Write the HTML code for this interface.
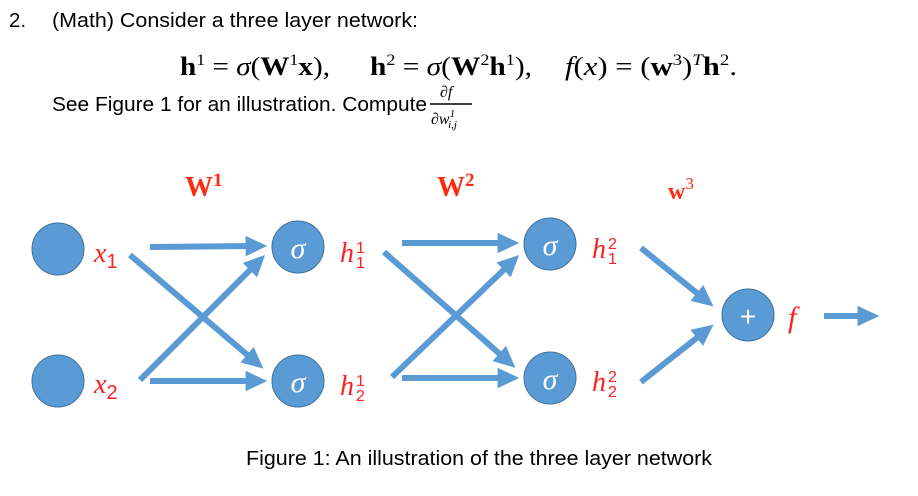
<!DOCTYPE html>
<html><head><style>
body{margin:0;background:#fff;width:918px;height:496px;overflow:hidden}
svg{display:block}
.t{font-family:"Liberation Sans",sans-serif;font-size:20.5px;fill:#000}
.m{font-family:"Liberation Serif",serif;fill:#000}
.r{font-family:"Liberation Serif",serif;fill:#ff2020;font-style:italic}
.W{font-family:"Liberation Serif",serif;fill:#ff2a10;font-weight:bold}
</style></head><body>
<svg width="918" height="496" viewBox="0 0 918 496">
<defs><marker id="a" markerWidth="3.6" markerHeight="3.4" refX="2.4" refY="1.7" orient="auto" markerUnits="strokeWidth"><path d="M0,0 L3.6,1.7 L0,3.4z" fill="#5b9bd5"/></marker></defs>
<text class="t" x="9" y="27">2.</text>
<text class="t" x="52" y="27" textLength="366" lengthAdjust="spacingAndGlyphs">(Math) Consider a three layer network:</text>
<text class="m" x="180" y="75" font-size="26" textLength="150" lengthAdjust="spacingAndGlyphs"><tspan font-weight="bold">h</tspan><tspan font-size="16" dy="-10">1</tspan><tspan dy="10"> = </tspan><tspan font-style="italic">σ</tspan>(<tspan font-weight="bold">W</tspan><tspan font-size="16" dy="-10">1</tspan><tspan dy="10" font-weight="bold">x</tspan>),</text>
<text class="m" x="370" y="75" font-size="26" textLength="162" lengthAdjust="spacingAndGlyphs"><tspan font-weight="bold">h</tspan><tspan font-size="16" dy="-10">2</tspan><tspan dy="10"> = </tspan><tspan font-style="italic">σ</tspan>(<tspan font-weight="bold">W</tspan><tspan font-size="16" dy="-10">2</tspan><tspan dy="10" font-weight="bold">h</tspan><tspan font-size="16" dy="-10">1</tspan><tspan dy="10">),</tspan></text>
<text class="m" x="565" y="75" font-size="26" textLength="172" lengthAdjust="spacingAndGlyphs"><tspan font-style="italic">f</tspan>(<tspan font-style="italic">x</tspan>) = (<tspan font-weight="bold">w</tspan><tspan font-size="16" dy="-10">3</tspan><tspan dy="10">)</tspan><tspan font-size="16" dy="-10" font-style="italic">T</tspan><tspan dy="10" font-weight="bold">h</tspan><tspan font-size="16" dy="-10">2</tspan><tspan dy="10">.</tspan></text>
<text class="t" x="52" y="111" textLength="375" lengthAdjust="spacingAndGlyphs">See Figure 1 for an illustration. Compute</text>
<text class="m" x="440" y="97" font-size="16" font-style="italic">∂f</text>
<line x1="430" y1="104" x2="472" y2="104" stroke="#000" stroke-width="1.5"/>
<text class="m" x="431" y="124" font-size="16" font-style="italic">∂w<tspan font-size="11" dy="-7">1</tspan><tspan font-size="11" dx="-7" dy="11">i,j</tspan></text>
<text class="W" x="185" y="196" font-size="28">W<tspan font-size="19" dy="-10">1</tspan></text>
<text class="W" x="437" y="196" font-size="28">W<tspan font-size="19" dy="-10">2</tspan></text>
<text class="W" x="668" y="199" font-size="24" fill="#e8204a">w<tspan font-size="17" dy="-10" font-weight="normal">3</tspan></text>
<g stroke="#5b9bd5" stroke-width="6" fill="none" marker-end="url(#a)">
<line x1="150" y1="247" x2="260" y2="246"/>
<line x1="150" y1="381" x2="260" y2="381"/>
<line x1="130" y1="255" x2="258" y2="364"/>
<line x1="140" y1="380" x2="260" y2="260"/>
<line x1="402" y1="243" x2="512" y2="243"/>
<line x1="402" y1="378" x2="512" y2="378"/>
<line x1="384" y1="252" x2="510" y2="363"/>
<line x1="392" y1="377" x2="514" y2="260"/>
<line x1="641" y1="248" x2="708" y2="302"/>
<line x1="641" y1="382" x2="708" y2="329"/>
<line x1="824" y1="316" x2="872" y2="316"/>
</g>
<g fill="#5b9bd5" stroke="#41719c" stroke-width="1">
<circle cx="58" cy="249" r="26"/><circle cx="58" cy="381" r="26"/>
<circle cx="298" cy="247" r="26"/><circle cx="298" cy="381" r="26"/>
<circle cx="550" cy="244" r="26"/><circle cx="550" cy="378" r="26"/>
<circle cx="748" cy="315" r="26"/>
</g>
<g class="m" font-size="30" font-style="italic" text-anchor="middle">
<text x="298" y="258" fill="#fff">σ</text><text x="298" y="392" fill="#fff">σ</text>
<text x="550" y="255" fill="#fff">σ</text><text x="550" y="389" fill="#fff">σ</text>
</g>
<text x="748" y="326" fill="#fff" font-family="Liberation Sans" font-size="28" text-anchor="middle">+</text>
<text class="r" x="94" y="262" font-size="28">x<tspan font-style="normal" font-family="Liberation Sans" font-size="20" dy="6">1</tspan></text>
<text class="r" x="94" y="393" font-size="28">x<tspan font-style="normal" font-family="Liberation Sans" font-size="20" dy="6">2</tspan></text>
<text class="r" x="340" y="262" font-size="28">h</text><text x="356" y="253" fill="#ff2020" font-family="Liberation Sans" font-size="16">1</text><text x="356" y="268" fill="#ff2020" font-family="Liberation Sans" font-size="16">1</text>
<text class="r" x="340" y="395" font-size="28">h</text><text x="356" y="386" fill="#ff2020" font-family="Liberation Sans" font-size="16">1</text><text x="356" y="401" fill="#ff2020" font-family="Liberation Sans" font-size="16">2</text>
<text class="r" x="592" y="258" font-size="28">h</text><text x="608" y="249" fill="#ff2020" font-family="Liberation Sans" font-size="16">2</text><text x="608" y="264" fill="#ff2020" font-family="Liberation Sans" font-size="16">1</text>
<text class="r" x="592" y="391" font-size="28">h</text><text x="608" y="382" fill="#ff2020" font-family="Liberation Sans" font-size="16">2</text><text x="608" y="397" fill="#ff2020" font-family="Liberation Sans" font-size="16">2</text>
<text class="r" x="788" y="327" font-size="30">f</text>
<text class="t" x="246" y="465" textLength="466" lengthAdjust="spacingAndGlyphs">Figure 1: An illustration of the three layer network</text>
</svg>
</body></html>
